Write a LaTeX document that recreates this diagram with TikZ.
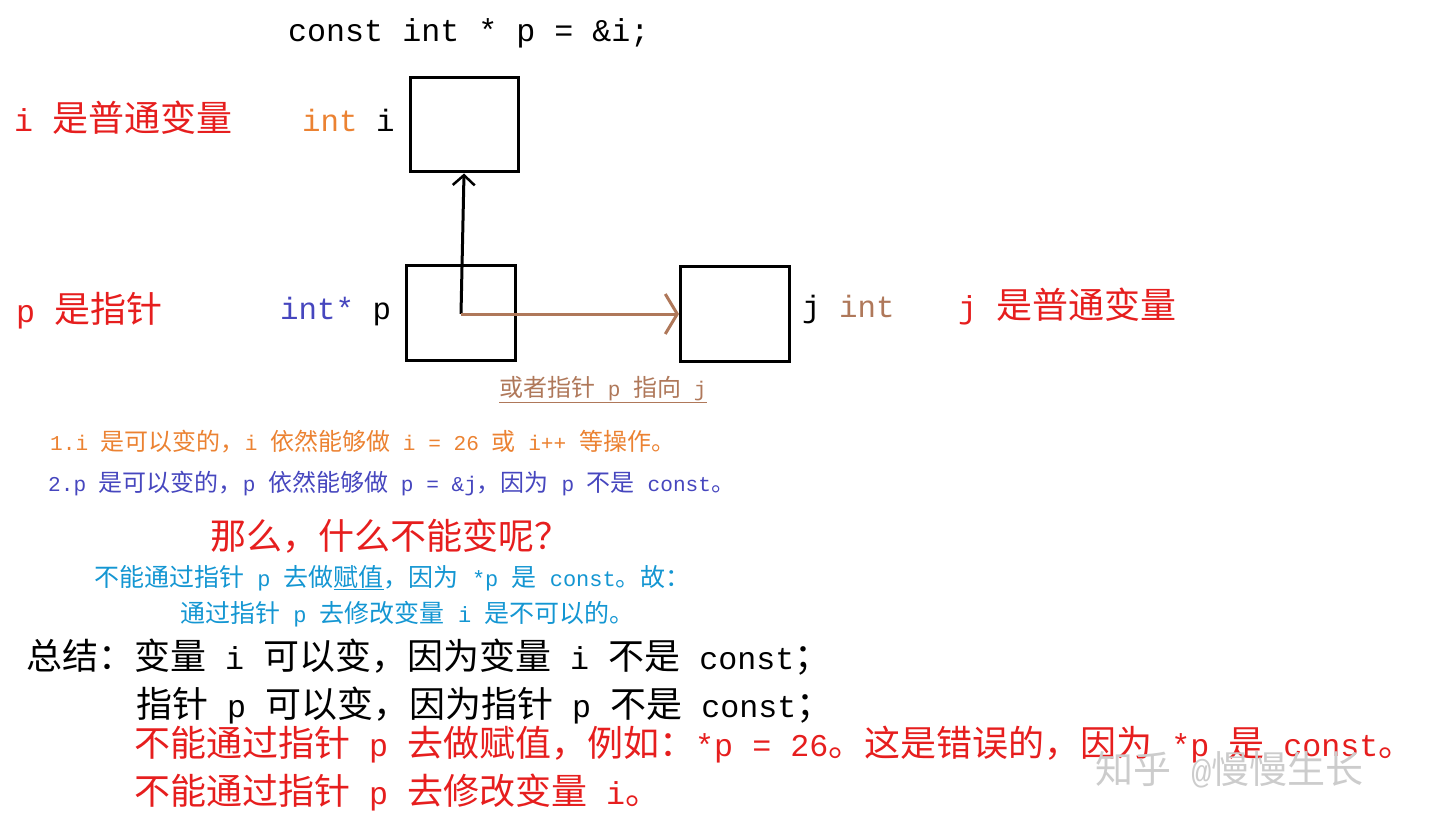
\documentclass[tikz,border=0pt]{standalone}
\usepackage{fontspec}
\setmainfont[Scale=0.88]{Liberation Mono}
\newfontfamily\cjk{Noto Sans CJK SC}
\newfontfamily\mono[Scale=0.88]{Liberation Mono}
\XeTeXinterchartokenstate=1
\newXeTeXintercharclass\cjkclass
\count255="3000
\loop\ifnum\count255<"3040 \XeTeXcharclass\count255=\cjkclass \advance\count255 by 1 \repeat
\count255="4E00
\loop\ifnum\count255<"A000 \XeTeXcharclass\count255=\cjkclass \advance\count255 by 1 \repeat
\count255="FF00
\loop\ifnum\count255<"FFF0 \XeTeXcharclass\count255=\cjkclass \advance\count255 by 1 \repeat
\XeTeXinterchartoks 0 \cjkclass={\cjk}
\XeTeXinterchartoks 4095 \cjkclass={\cjk}
\XeTeXinterchartoks \cjkclass 0={\mono}
\XeTeXinterchartoks \cjkclass 4095={\mono}
\usetikzlibrary{arrows.meta}
\definecolor{red1}{RGB}{230,30,30}
\definecolor{org}{RGB}{235,130,50}
\definecolor{blu}{RGB}{70,70,190}
\definecolor{brn}{RGB}{175,120,90}
\definecolor{cyn}{RGB}{20,150,210}
\newcommand\fs[1]{\fontsize{#1}{#1}\selectfont}
\begin{document}
\begin{tikzpicture}[x=1pt,y=-1pt,
 t/.style={anchor=west,inner sep=0pt,font=\mono},
 box/.style={draw,line width=3pt,inner sep=0pt}]
\useasboundingbox (0,0) rectangle (1440,829);
\node[t,font=\mono\fs{36}] (h) at (288,33) {const int * p = \&i;};
\node[t,red1,font=\mono\fs{36}] (l1) at (14,118) {i 是普通变量};
\node[t,org,font=\mono\fs{35}] (ti) at (302,120) {int\ \textcolor{black}{i}};
\node[box,minimum width=108pt,minimum height=94pt] (bi) at (464,125) {};
\node[t,red1,font=\mono\fs{36}] (l2) at (16,311) {p 是指针};
\node[t,blu,font=\mono\fs{35}] (tp) at (280,312) {int*\ \textcolor{black}{p}};
\node[box,minimum width=109pt,minimum height=95pt] (bp) at (461,313) {};
\node[box,minimum width=109pt,minimum height=95pt] (bj) at (735,314) {};
\node[t,font=\mono\fs{35}] (tj) at (802,310) {j \textcolor{brn}{int}};
\node[t,red1,font=\mono\fs{36}] (l3) at (958,307) {j 是普通变量};
\coordinate (o) at (461,314);
\draw[line width=3pt,-{Straight Barb[length=10pt,width=22pt,line width=2.5pt]}] (o) -- (bi.south);
\draw[brn,line width=3pt,-{Straight Barb[length=12pt,width=40pt,line width=3pt]}] (o) -- (bj.west);
\node[t,brn,font=\mono\fs{24}] (u) at (499,390) {\underline{或者指针 p 指向 j}};
\node[t,org,font=\mono\fs{24}] (n1) at (50,442) {1.i 是可以变的，i 依然能够做 i = 26 或 i++ 等操作。};
\node[t,blu,font=\mono\fs{24}] (n2) at (48,483) {2.p 是可以变的，p 依然能够做 p = \&j，因为 p 不是 const。};
\node[t,red1,font=\mono\fs{36}] (q) at (210,536) {那么，什么不能变呢？};
\node[t,cyn,font=\mono\fs{25}] (c1) at (94,578) {不能通过指针 p 去做\underline{赋值}，因为 *p 是 const。故：};
\node[t,cyn,font=\mono\fs{25}] (c2) at (180,614) {通过指针 p 去修改变量 i 是不可以的。};
\node[t,font=\mono\fs{36}] (s1) at (26,657) {总结：变量 i 可以变，因为变量 i 不是 const；};
\node[t,font=\mono\fs{36}] (s2) at (136,705) {指针 p 可以变，因为指针 p 不是 const；};
\node[t,red1,font=\mono\fs{36}] (s3) at (134,745) {不能通过指针 p 去做赋值，例如：*p = 26。这是错误的，因为 *p 是 const。};
\node[t,red1,font=\mono\fs{36}] (s4) at (134,792) {不能通过指针 p 去修改变量 i。};
\node[t,gray!40,font=\mono\fs{38}] (w) at (1095,770) {知乎 @慢慢生长};
\end{tikzpicture}
\end{document}
